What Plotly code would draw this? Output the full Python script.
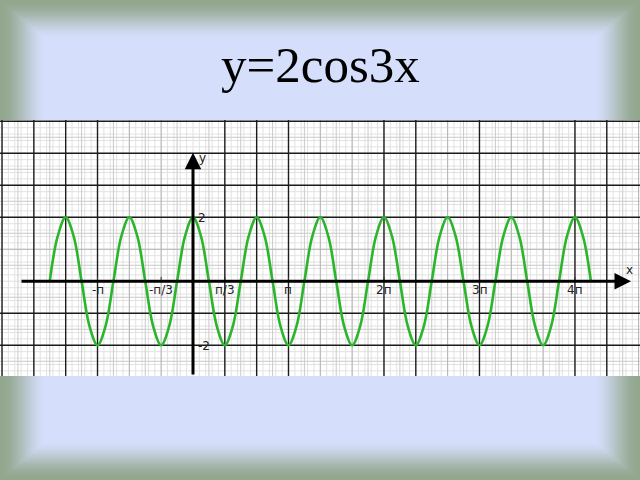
import numpy as np
import plotly.graph_objects as go

# ---------------- data ----------------
title_text = "y=2cos3x"
# curve sample positions, in multiples of pi/12 (from -3pi/2 to 25pi/6)
x_steps = list(range(-18, 51))
# values (peaks 2, troughs -2)
y_vals = [0, 1.41, 2, 1.41, 0, -1.41, -2, -1.41,
          0, 1.41, 2, 1.41, 0, -1.41, -2, -1.41,
          0, 1.41, 2, 1.41, 0, -1.41, -2, -1.41,
          0, 1.41, 2, 1.41, 0, -1.41, -2, -1.41,
          0, 1.41, 2, 1.41, 0, -1.41, -2, -1.41,
          0, 1.41, 2, 1.41, 0, -1.41, -2, -1.41,
          0, 1.41, 2, 1.41, 0, -1.41, -2, -1.41,
          0, 1.41, 2, 1.41, 0, -1.41, -2, -1.41,
          0, 1.41, 2, 1.41, 0]
tick_labels = ["-п", "-п/3", "п/3", "п", "2п", "3п", "4п"]
tick_units = [-3, -1, 1, 3, 6, 9, 12]          # multiples of pi/3
y_tick_labels = ["2", "-2"]
y_tick_vals = [2, -2]

U = np.pi / 3.0
x = [k * np.pi / 12 for k in x_steps]

W, H = 640, 480
PX_PER_UNIT = 31.83
X0_PX = 193.0
def px2x(px):
    return (px - X0_PX) / PX_PER_UNIT * U

XR = [px2x(0), px2x(W)]
YR = [-2.96, 5.04]
Y_TOP_PX, Y_BOT_PX = 120, 376

fig = go.Figure()

# ---------------- graph paper grid ----------------
def vlines(xs):
    xx, yy = [], []
    for v in xs:
        xx += [v, v, None]
        yy += [YR[0], YR[1], None]
    return xx, yy

def hlines(ys):
    xx, yy = [], []
    for v in ys:
        xx += [XR[0], XR[1], None]
        yy += [v, v, None]
    return xx, yy

light_x = [u * U for u in np.arange(-6.4, 14.41, 0.2)]
light_y = list(np.arange(-3.0, 5.21, 0.2))
dark_xu = [-6, -5, -4, -3, 1, 2, 3, 6, 7, 9, 12, 13]
med_xu = [u for u in range(-7, 15) if u not in dark_xu and u != 0]
dark_yu = [5, 4, 3, 2, -1, -2]
med_yu = [1, -3]

for xs_, ys_, col, wd in [
    (*vlines(light_x), "#e2e2e2", 1),
    (*hlines(light_y), "#e2e2e2", 1),
    (*vlines([u * U for u in np.arange(-6.5, 14.6, 1.0)]), "#cacaca", 1),
    (*hlines(list(np.arange(-2.5, 5.1, 1.0))), "#cacaca", 1),
    (*vlines([u * U for u in med_xu]), "#b3b3b3", 1),
    (*hlines(med_yu), "#b3b3b3", 1),
    (*vlines([u * U for u in dark_xu]), "#1c1c1c", 1.4),
    (*hlines(dark_yu), "#1c1c1c", 1.4),
]:
    fig.add_trace(go.Scatter(x=xs_, y=ys_, mode="lines",
                             line=dict(color=col, width=wd),
                             hoverinfo="skip", showlegend=False))

# small tick marks above the x axis at labelled positions
tx, ty = [], []
for u in tick_units:
    tx += [u * U, u * U, None]
    ty += [0, 0.14, None]
fig.add_trace(go.Scatter(x=tx, y=ty, mode="lines",
                         line=dict(color="#333", width=1),
                         hoverinfo="skip", showlegend=False))

# ---------------- curve ----------------
fig.add_trace(go.Scatter(x=x, y=y_vals, mode="lines",
                         line=dict(color="#2ab52a", width=2.6, shape="spline", smoothing=1.0),
                         hoverinfo="skip", showlegend=False))

annotations = []
# axes with arrows
annotations.append(dict(x=px2x(631), y=0, ax=px2x(20), ay=0,
                        xref="x", yref="y", axref="x", ayref="y",
                        text="", showarrow=True, arrowhead=2, arrowsize=1.1,
                        arrowwidth=3, arrowcolor="black"))
annotations.append(dict(x=0, y=4.02, ax=0, ay=YR[0],
                        xref="x", yref="y", axref="x", ayref="y",
                        text="", showarrow=True, arrowhead=2, arrowsize=1.1,
                        arrowwidth=3, arrowcolor="black"))

lab_font = dict(family="DejaVu Sans", size=12, color="#222")
for lab, u in zip(tick_labels, tick_units):
    annotations.append(dict(x=u * U, y=-0.26, xref="x", yref="y", text=lab,
                            showarrow=False, xanchor="center", yanchor="middle",
                            font=lab_font))
for lab, v in zip(y_tick_labels, y_tick_vals):
    annotations.append(dict(x=px2x(195.5), y=v, xref="x", yref="y", text=lab,
                            showarrow=False, xanchor="left", yanchor="middle",
                            yshift=-1, font=lab_font))
annotations.append(dict(x=px2x(197), y=3.86, xref="x", yref="y", text="y",
                        showarrow=False, xanchor="left", yanchor="middle", font=lab_font))
annotations.append(dict(x=px2x(629), y=0.34, xref="x", yref="y", text="x",
                        showarrow=False, xanchor="center", yanchor="middle", font=lab_font))

# title
annotations.append(dict(x=0.5, y=1 - 65 / H, xref="paper", yref="paper", text=title_text,
                        showarrow=False, xanchor="center", yanchor="middle",
                        font=dict(family="Liberation Serif", size=51, color="black")))

# ---------------- beveled slide frame ----------------
outer = np.array([0x92, 0xa7, 0x8d], float)
inner = np.array([0xd5, 0xde, 0xfb], float)
shapes = []
N = 48
for i in range(N):
    t = i / (N - 1)
    s = t * t * (3 - 2 * t)
    c = outer + (inner - outer) * s
    col = "rgb(%d,%d,%d)" % tuple(np.round(c))
    dx = i * 1.0 / W
    dy = i * 0.85 / H
    shapes.append(dict(type="rect", xref="paper", yref="paper",
                       x0=dx, x1=1 - dx, y0=dy, y1=1 - dy,
                       fillcolor=col, line=dict(width=0), layer="below"))
# white graph paper sheet
shapes.append(dict(type="rect", xref="paper", yref="paper",
                   x0=0, x1=1, y0=1 - Y_BOT_PX / H, y1=1 - Y_TOP_PX / H,
                   fillcolor="white", line=dict(width=0), layer="below"))

fig.update_layout(
    width=W, height=H, autosize=False,
    margin=dict(l=0, r=0, t=0, b=0, pad=0),
    paper_bgcolor="#d5defb", plot_bgcolor="white",
    showlegend=False,
    xaxis=dict(range=XR, domain=[0, 1], visible=False, fixedrange=True),
    yaxis=dict(range=YR, domain=[1 - Y_BOT_PX / H, 1 - Y_TOP_PX / H], visible=False, fixedrange=True),
    annotations=annotations,
    shapes=shapes,
)

fig.write_html("out.html", config={"displayModeBar": False},
               post_script="document.body.style.margin='0';document.body.style.overflow='hidden';")
